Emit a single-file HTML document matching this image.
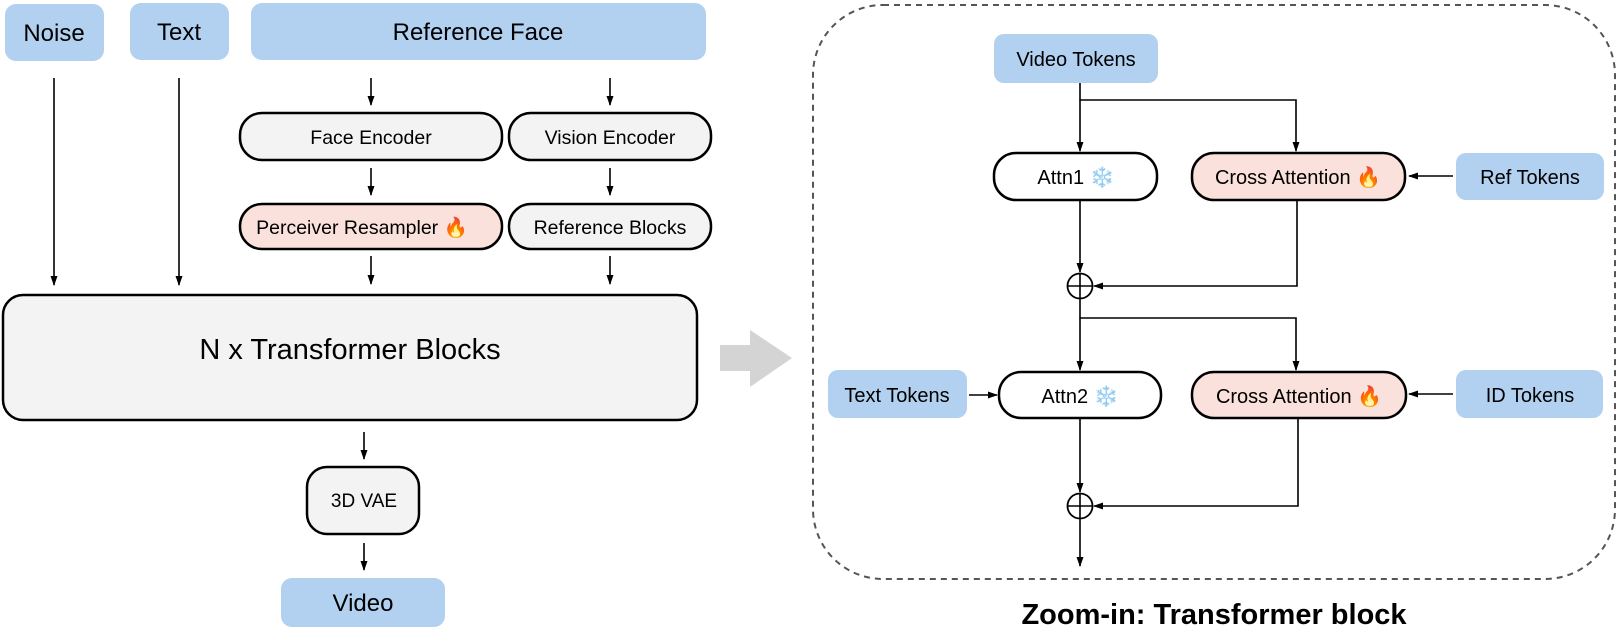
<!DOCTYPE html>
<html><head><meta charset="utf-8"><style>
html,body{margin:0;padding:0;background:#fff;}
svg{display:block;font-family:"Liberation Sans","Noto Sans CJK SC",sans-serif;}
</style></head><body>
<svg width="1621" height="631" viewBox="0 0 1621 631" xmlns="http://www.w3.org/2000/svg">
<defs>
<marker id="a" markerWidth="10" markerHeight="10" refX="9" refY="5" orient="auto" markerUnits="userSpaceOnUse">
<path d="M0,1.5 L10,5 L0,8.5 Z" fill="#000"/></marker>
</defs>
<g stroke="#000" stroke-width="1.6" fill="none" marker-end="url(#a)">
<line x1="54" y1="78" x2="54" y2="285"/>
<line x1="179" y1="78" x2="179" y2="285"/>
<line x1="371" y1="78" x2="371" y2="105"/>
<line x1="610" y1="78" x2="610" y2="105"/>
<line x1="371" y1="168" x2="371" y2="195"/>
<line x1="610" y1="168" x2="610" y2="195"/>
<line x1="371" y1="256" x2="371" y2="284"/>
<line x1="610" y1="256" x2="610" y2="284"/>
<line x1="364" y1="432" x2="364" y2="459"/>
<line x1="364" y1="543" x2="364" y2="570"/>
</g>
<rect x="5" y="4" width="99" height="57" rx="11" fill="#b2d0ef"/>
<rect x="130" y="3" width="99" height="57" rx="11" fill="#b2d0ef"/>
<rect x="251" y="3" width="455" height="57" rx="11" fill="#b2d0ef"/>
<g font-size="24" text-anchor="middle" fill="#000">
<text x="54" y="41">Noise</text>
<text x="179" y="40">Text</text>
<text x="478" y="40">Reference Face</text>
</g>
<g stroke="#000" stroke-width="2.5">
<rect x="240" y="113" width="262" height="47" rx="22" fill="#f2f3f2"/>
<rect x="509" y="113" width="202" height="47" rx="22" fill="#f2f3f2"/>
<rect x="240" y="204" width="262" height="45" rx="22" fill="#fbe1dc"/>
<rect x="509" y="204" width="202" height="45" rx="22" fill="#f2f3f2"/>
<rect x="3" y="295" width="694" height="125" rx="20" fill="#f2f3f2"/>
<rect x="307" y="467" width="112" height="67" rx="20" fill="#f2f3f2"/>
</g>
<g font-size="19.5" text-anchor="middle" fill="#000">
<text x="371" y="144">Face Encoder</text>
<text x="610" y="144">Vision Encoder</text>
<text x="362" y="234">Perceiver Resampler 🔥</text>
<text x="610" y="234">Reference Blocks</text>
<text x="364" y="507" font-size="19">3D VAE</text>
</g>
<text x="350" y="359" font-size="29" text-anchor="middle">N x Transformer Blocks</text>
<rect x="281" y="578" width="164" height="49" rx="11" fill="#b2d0ef"/>
<text x="363" y="611" font-size="24" text-anchor="middle">Video</text>
<path d="M720,345 L750,345 L750,330 L792,358 L750,387 L750,371 L720,371 Z" fill="#d4d4d4"/>
<rect x="813" y="5" width="802" height="574" rx="70" fill="none" stroke="#555" stroke-width="2" stroke-dasharray="6,5"/>
<g stroke="#000" stroke-width="1.6" fill="none">
<polyline points="1080,83 1080,100 1296,100 1296,151" marker-end="url(#a)"/>
<line x1="1080" y1="100" x2="1080" y2="151" marker-end="url(#a)"/>
<line x1="1453" y1="176" x2="1409" y2="176" marker-end="url(#a)"/>
<line x1="1080" y1="200" x2="1080" y2="272" marker-end="url(#a)"/>
<polyline points="1297,200 1297,286 1094,286" marker-end="url(#a)"/>
<polyline points="1080,299 1080,318 1296,318 1296,370" marker-end="url(#a)"/>
<line x1="1080" y1="318" x2="1080" y2="370" marker-end="url(#a)"/>
<line x1="969" y1="395" x2="997" y2="395" marker-end="url(#a)"/>
<line x1="1453" y1="394" x2="1409" y2="394" marker-end="url(#a)"/>
<line x1="1080" y1="418" x2="1080" y2="492" marker-end="url(#a)"/>
<polyline points="1298,418 1298,506 1094,506" marker-end="url(#a)"/>
<line x1="1080" y1="519" x2="1080" y2="566" marker-end="url(#a)"/>
<circle cx="1080" cy="286" r="12.5" stroke-width="1.8"/>
<path d="M1068,286 H1092 M1080,274 V298"/>
<circle cx="1080" cy="506" r="12.5" stroke-width="1.8"/>
<path d="M1068,506 H1092 M1080,494 V518"/>
</g>
<rect x="994" y="34" width="164" height="49" rx="10" fill="#b2d0ef"/>
<rect x="1456" y="153" width="148" height="47" rx="10" fill="#b2d0ef"/>
<rect x="828" y="370" width="139" height="48" rx="10" fill="#b2d0ef"/>
<rect x="1456" y="370" width="147" height="48" rx="10" fill="#b2d0ef"/>
<g stroke="#000" stroke-width="2.5">
<rect x="994" y="153" width="163" height="47" rx="22" fill="#fff"/>
<rect x="1192" y="153" width="213" height="47" rx="22" fill="#fbe1dc"/>
<rect x="999" y="372" width="162" height="46" rx="22" fill="#fff"/>
<rect x="1192" y="372" width="214" height="46" rx="22" fill="#fbe1dc"/>
</g>
<g font-size="20" text-anchor="middle" fill="#000">
<text x="1076" y="66">Video Tokens</text>
<text x="1076" y="184">Attn1 ❄️</text>
<text x="1298" y="184">Cross Attention 🔥</text>
<text x="1530" y="184">Ref Tokens</text>
<text x="897" y="402">Text Tokens</text>
<text x="1080" y="403">Attn2 ❄️</text>
<text x="1299" y="403">Cross Attention 🔥</text>
<text x="1530" y="402">ID Tokens</text>
</g>
<text x="1214" y="624" font-size="29" font-weight="bold" text-anchor="middle">Zoom-in: Transformer block</text>
</svg>
</body></html>
